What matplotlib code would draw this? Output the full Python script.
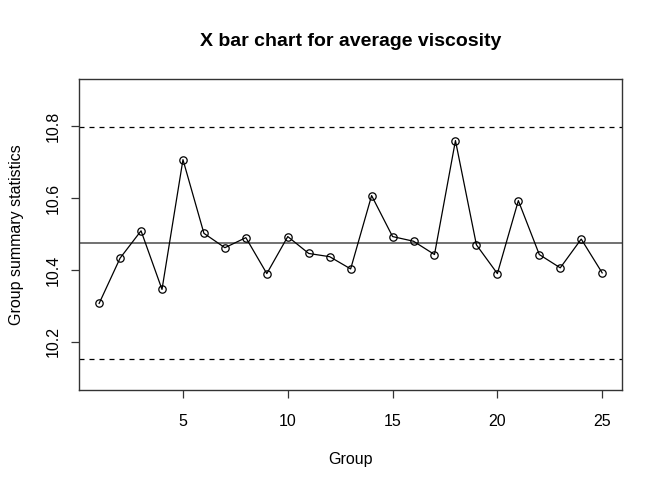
import matplotlib
matplotlib.use("Agg")
import matplotlib.pyplot as plt

groups = list(range(1, 26))
means = [10.307, 10.433, 10.509, 10.346, 10.707, 10.502, 10.462, 10.490, 10.390, 10.493,
         10.446, 10.437, 10.403, 10.607, 10.493, 10.480, 10.443, 10.760, 10.470, 10.390,
         10.593, 10.443, 10.406, 10.486, 10.392]
center = 10.4755
ucl = 10.7978
lcl = 10.1533
xticks = [5, 10, 15, 20, 25]
yticks = [10.2, 10.4, 10.6, 10.8]

plt.rcParams['font.family'] = ['Liberation Sans', 'DejaVu Sans']

W, H = 663, 488
fig = plt.figure(figsize=(W / 100, H / 100), dpi=100)
left, right, top, bottom = 79, 622.3, 79, 390
ax = fig.add_axes([left / W, 1 - bottom / H, (right - left) / W, (bottom - top) / H])

ax.axhline(center, color='#666666', lw=1.3, zorder=1)
ax.axhline(ucl, color='black', lw=0.9, linestyle=(0, (4, 4)), zorder=1)
ax.axhline(lcl, color='black', lw=0.9, linestyle=(0, (4, 4)), zorder=1)
ax.plot(groups, means, color='black', lw=0.9, marker='o', markersize=5.3,
        markerfacecolor='none', markeredgecolor='black', markeredgewidth=0.9, zorder=2)

ax.set_xlim(0.04, 25.96)
ax.set_ylim(10.0662, 10.9313)
ax.set_xticks(xticks)
ax.set_xticklabels([str(t) for t in xticks])
ax.set_yticks(yticks)
ax.set_yticklabels([f"{t:.1f}" for t in yticks], rotation=90, va='center')
ax.tick_params(axis='both', labelsize=11.5, length=6, width=0.9, color='#333333')
ax.tick_params(axis='x', pad=11)
ax.tick_params(axis='y', pad=7)
for s in ax.spines.values():
    s.set_linewidth(1.0)
    s.set_color('#333333')

ax.set_xlabel('Group', fontsize=11.5, labelpad=17)
ax.set_ylabel('Group summary statistics', fontsize=11.5, labelpad=16)
fig.text((left + right) / 2 / W, 1 - 42 / H, 'X bar chart for average viscosity',
         ha='center', va='center', fontsize=14, fontweight='bold')

fig.savefig('out.png', dpi=100)
